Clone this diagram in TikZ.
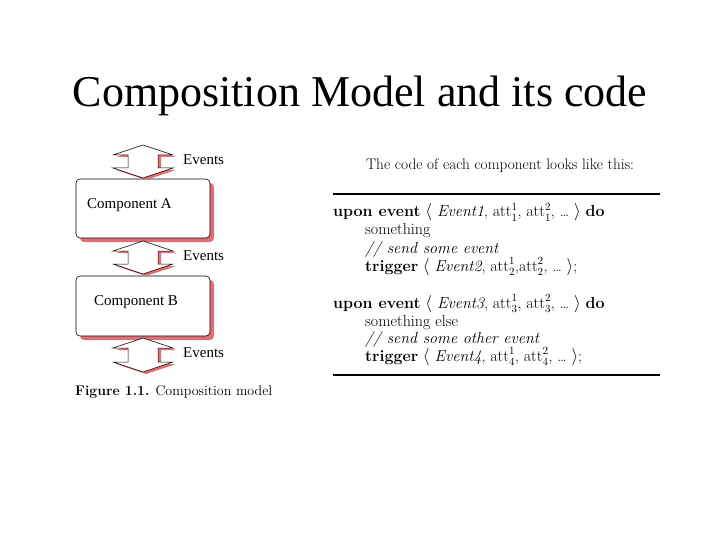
\documentclass[tikz,border=0pt]{standalone}
\usepackage{fontspec}
\newfontfamily\timesf{Liberation Serif}
\definecolor{shad}{RGB}{225,110,115}
\begin{document}
\begin{tikzpicture}[x=1pt,y=-1pt,
  comp/.style={draw,rounded corners=4pt,fill=white,line width=0.6pt},
  shd/.style={fill=shad,rounded corners=4pt},
  lbl/.style={anchor=west,inner sep=0pt,font=\timesf\fontsize{15}{17}\selectfont},
  code/.style={anchor=base west,inner sep=0pt,font=\fontsize{16}{19}\selectfont}]
\useasboundingbox (0,0) rectangle (720,540);
\node[font=\timesf\fontsize{44}{50}\selectfont] (title) at (360,96) {Composition Model and its code};
% boxes
\fill[shd] (80,183) rectangle (214,242);
\node[comp,minimum width=134pt,minimum height=59pt] (A) at (143,208.5) {};
\node[lbl] (Alab) at (87,205) {Component A};
\fill[shd] (80,280) rectangle (214,340);
\node[comp,minimum width=134pt,minimum height=60pt] (B) at (143,306) {};
\node[lbl] (Blab) at (94,302) {Component B};
% double arrows
\foreach \t/\b/\n in {145/178/e1,241/274/e2,338/372/e3}{
  \pgfmathsetmacro{\ha}{\t+10}\pgfmathsetmacro{\hb}{\b-10}
  \fill[shad] (146,\t+2) -- (176,\ha+2) -- (161,\ha+2) -- (161,\hb+2) -- (176,\hb+2) -- (146,\b+2) -- (116,\hb+2) -- (131,\hb+2) -- (131,\ha+2) -- (116,\ha+2) -- cycle;
  \draw[fill=white,line width=0.5pt] (143,\t) -- (173,\ha) -- (158,\ha) -- (158,\hb) -- (173,\hb) -- (143,\b) -- (113,\hb) -- (128,\hb) -- (128,\ha) -- (113,\ha) -- cycle;
  \node[lbl] (\n) at (183,{(\t+\b)/2-2}) {Events};
}
\node[anchor=west,inner sep=0pt,font=\fontsize{14}{16}\selectfont] (cap) at (75,392) {\textbf{Figure 1.1.} Composition model};
% code
\node[inner sep=0pt,font=\fontsize{15.3}{18}\selectfont] (head) at (500,166) {The code of each component looks like this:};
\coordinate (r1a) at (333,194); \coordinate (r1b) at (660,194);
\coordinate (r2a) at (333,375); \coordinate (r2b) at (660,375);
\draw[line width=1.6pt] (r1a) -- (r1b);
\draw[line width=1.6pt] (r2a) -- (r2b);
\node[code] (c1) at (333,217) {\textbf{upon event} $\langle$ \textit{Event1}, att$_1^1$, att$_1^2$, \dots\ $\rangle$ \textbf{do}};
\node[code] (c2) at (365,235) {something};
\node[code] (c3) at (365,253) {\textit{// send some event}};
\node[code] (c4) at (365,271) {\textbf{trigger} $\langle$ \textit{Event2}, att$_2^1$,att$_2^2$, \dots\ $\rangle$;};
\node[code] (c5) at (333,308) {\textbf{upon event} $\langle$ \textit{Event3}, att$_3^1$, att$_3^2$, \dots\ $\rangle$ \textbf{do}};
\node[code] (c6) at (365,326) {something else};
\node[code] (c7) at (365,343) {\textit{// send some other event}};
\node[code] (c8) at (365,361) {\textbf{trigger} $\langle$ \textit{Event4}, att$_4^1$, att$_4^2$, \dots\ $\rangle$;};
\end{tikzpicture}
\end{document}
